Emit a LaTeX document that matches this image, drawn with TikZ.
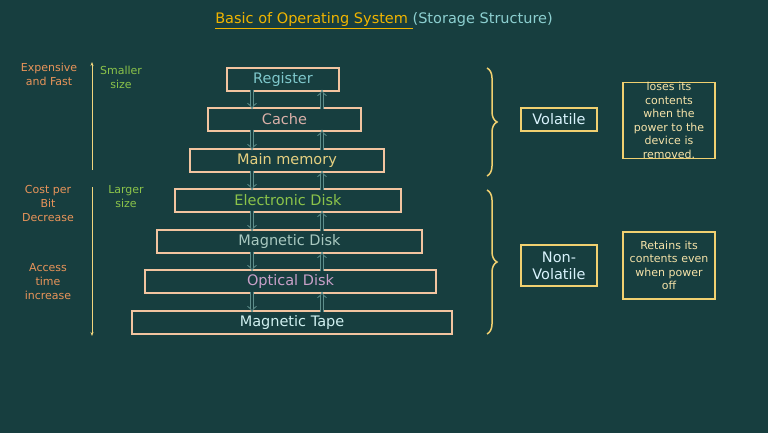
\documentclass[tikz,border=0pt]{standalone}
\usepackage{fontspec}
\setmainfont{DejaVu Sans}
\usetikzlibrary{arrows.meta,decorations.pathreplacing}
\definecolor{bgc}{HTML}{173E3F}
\definecolor{peach}{HTML}{F2C4A0}
\definecolor{gold}{HTML}{F0D070}
\definecolor{orng}{HTML}{E8945A}
\definecolor{lgreen}{HTML}{8BC34A}
\definecolor{harrc}{HTML}{5F8F8C}
\tikzset{
  level/.style={draw=peach, line width=1.3pt, minimum height=23pt, inner sep=0pt,
    font=\fontsize{14.5}{16}\selectfont},
  kind/.style={draw=gold, line width=1.3pt, minimum width=76pt, inner sep=2pt,
    text=white!85!cyan, align=center, font=\fontsize{14.5}{16}\selectfont},
  note/.style={draw=gold, line width=1.3pt, minimum width=92pt, text width=92pt,
    align=center, text=gold!60!white, font=\fontsize{11}{13.5}\selectfont},
  side/.style={align=center, font=\fontsize{11}{14}\selectfont},
  harr/.style={draw=harrc, double=bgc, double distance=2.5pt, line width=0.8pt, -{Implies}},
  brc/.style={draw=gold, line width=1.5pt, decorate, decoration={brace, amplitude=10pt}}
}
\begin{document}
\begin{tikzpicture}[x=1pt,y=-1pt]
  \fill[bgc] (0,0) rectangle (768,433);
  \useasboundingbox (0,0) rectangle (768,433);
  % title
  \node (title) at (384,21) {\fontsize{14.5}{16}\selectfont\textcolor[HTML]{F0B400}{\underline{Basic of Operating System }}\textcolor[HTML]{8CCFD0}{(Storage Structure)}};
  % hierarchy
  \node[level, minimum width=112pt] (reg) at (283,79.5) {\textcolor[HTML]{7FC8CC}{Register}};
  \node[level, minimum width=153pt] (cache) at (284.5,119.5) {\textcolor[HTML]{D9B0A8}{Cache}};
  \node[level, minimum width=194pt] (main) at (287,160.5) {\textcolor[HTML]{E6D080}{Main memory}};
  \node[level, minimum width=226pt] (edisk) at (288,200.5) {\textcolor{lgreen}{Electronic Disk}};
  \node[level, minimum width=265pt] (mdisk) at (289.5,241.5) {\textcolor[HTML]{A8C8C0}{Magnetic Disk}};
  \node[level, minimum width=291pt] (odisk) at (290.5,281.5) {\textcolor[HTML]{C8A0C8}{Optical Disk}};
  \node[level, minimum width=320pt] (tape) at (292,322.5) {\textcolor[HTML]{D0F0F0}{Magnetic Tape}};
  \coordinate (dn) at (252,0);
  \coordinate (up) at (322,0);
  \foreach \a/\b in {reg/cache,cache/main,main/edisk,edisk/mdisk,mdisk/odisk,odisk/tape}{
    \draw[harr] ([yshift=2pt]\a.south -| dn) -- ([yshift=-2pt]\b.north -| dn);
    \draw[harr] ([yshift=-2pt]\b.north -| up) -- ([yshift=2pt]\a.south -| up);
  }
  % left side
  \node[side, text=orng] (exp) at (49,74) {Expensive\\and Fast};
  \node[side, text=lgreen] (small) at (121,77) {Smaller\\size};
  \node[side, text=orng] (cost) at (48,203) {Cost per\\Bit\\Decrease};
  \node[side, text=lgreen] (large) at (126,197) {Larger\\size};
  \node[side, text=orng] (acc) at (48,282) {Access\\time\\increase};
  \coordinate (a1) at (92,170);
  \coordinate (a2) at (92,62);
  \coordinate (b1) at (92,187);
  \coordinate (b2) at (92,336);
  \draw[gold!90!white, line width=0.9pt, -{Stealth[length=4pt]}] (a1) -- (a2);
  \draw[gold!90!white, line width=0.9pt, -{Stealth[length=4pt]}] (b1) -- (b2);
  % right side
  \coordinate (v1) at (487,68);
  \coordinate (v2) at (487,176);
  \coordinate (n1) at (487,190);
  \coordinate (n2) at (487,334);
  \draw[brc] (v1) -- (v2);
  \draw[brc] (n1) -- (n2);
  \node[kind, minimum height=23pt] (vol) at (559,119.5) {Volatile};
  \node[kind, minimum height=41pt, inner sep=0pt, font=\fontsize{14.5}{17}\selectfont] (nvol) at (559,265.5) {Non-\\Volatile};
  \node[note, minimum height=67pt, inner sep=0pt] (vnote) at (669,120.5) {loses its\\contents\\when the\\power to the\\device is\\removed.};
  \node[note, minimum height=67pt, inner sep=0pt] (nnote) at (669,265.5) {Retains its\\contents even\\when power\\off};
\end{tikzpicture}
\end{document}
